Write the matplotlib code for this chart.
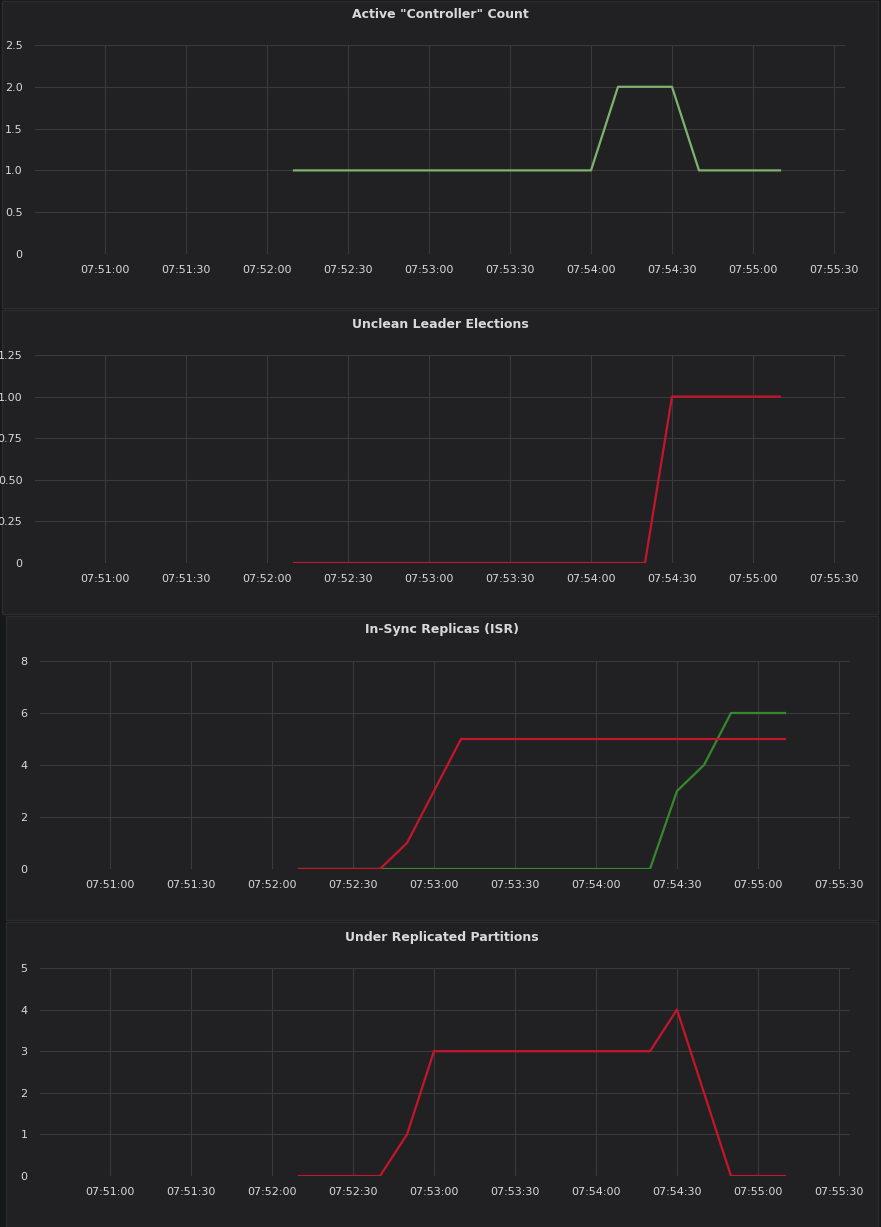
import matplotlib
matplotlib.use("Agg")
import matplotlib.pyplot as plt
import matplotlib.dates as mdates
from matplotlib.patches import Rectangle
import pandas as pd

W, H = 881, 1227
times = pd.date_range("2024-01-01 07:52:10", "2024-01-01 07:55:10", freq="10s")

controller = [1,1,1,1,1,1,1,1,1,1,1,1,2,2,2,1,1,1,1]
unclean    = [0,0,0,0,0,0,0,0,0,0,0,0,0,0,1,1,1,1,1]
isr_red    = [0,0,0,0,1,3,5,5,5,5,5,5,5,5,5,5,5,5,5]
isr_green  = [0,0,0,0,0,0,0,0,0,0,0,0,0,0,3,4,6,6,6]
urp        = [0,0,0,0,1,3,3,3,3,3,3,3,3,3,4,2,0,0,0]

titles = ['Active "Controller" Count', 'Unclean Leader Elections',
          'In-Sync Replicas (ISR)', 'Under Replicated Partitions']
yticks = [[0, 0.5, 1.0, 1.5, 2.0, 2.5], [0, 0.25, 0.5, 0.75, 1.0, 1.25],
          [0, 2, 4, 6, 8], [0, 1, 2, 3, 4, 5]]
ylabels = [["0","0.5","1.0","1.5","2.0","2.5"], ["0","0.25","0.50","0.75","1.00","1.25"],
           ["0","2","4","6","8"], ["0","1","2","3","4","5"]]
series = [[(controller, "#7eb26d")], [(unclean, "#c4162a")],
          [(isr_green, "#37872d"), (isr_red, "#c4162a")], [(urp, "#c4162a")]]
xtick_times = pd.date_range("2024-01-01 07:51:00", "2024-01-01 07:55:30", freq="30s")

panels = [((2, 1, 878, 308), (35, 45, 845, 254), 15),
          ((2, 310, 878, 614), (35, 355, 845, 563), 324),
          ((6, 616, 878, 920), (40, 661, 850, 869), 629),
          ((6, 922, 878, 1227), (40, 968, 850, 1176), 937)]

fig = plt.figure(figsize=(W/100, H/100), dpi=100, facecolor="#161719")
for i, (box, ax_px, ty) in enumerate(panels):
    x0, y0, x1, y1 = box
    fig.patches.append(Rectangle((x0/W, 1-y1/H), (x1-x0)/W, (y1-y0)/H,
                                 transform=fig.transFigure, facecolor="#212124",
                                 edgecolor="#2c2c2f", lw=1, zorder=-10))
    fig.text((x0+x1)/2/W, 1-ty/H, titles[i], color="#d8d9da", fontsize=9,
             fontweight="bold", ha="center", va="center")
    l, t, r, b = ax_px
    ax = fig.add_axes([l/W, 1-b/H, (r-l)/W, (b-t)/H])
    ax.set_facecolor("none")
    for vals, c in series[i]:
        ax.plot(times, vals, color=c, lw=1.6)
    start = pd.Timestamp("2024-01-01 07:51:00") - pd.Timedelta(seconds=70/81*30)
    end = start + pd.Timedelta(seconds=(r-l)/81*30)
    ax.set_xlim(start, end)
    ax.set_ylim(0, yticks[i][-1])
    ax.set_yticks(yticks[i])
    ax.set_yticklabels(ylabels[i])
    ax.set_xticks(xtick_times)
    ax.xaxis.set_major_formatter(mdates.DateFormatter("%H:%M:%S"))
    ax.grid(True, color="#3a3a3c", lw=0.8)
    ax.tick_params(length=0, colors="#d8d9da", labelsize=8, pad=9)
    ax.tick_params(axis="x", pad=8)
    for s in ax.spines.values():
        s.set_visible(False)
    ax.set_axisbelow(True)

fig.savefig("out.png", dpi=100, facecolor=fig.get_facecolor())
